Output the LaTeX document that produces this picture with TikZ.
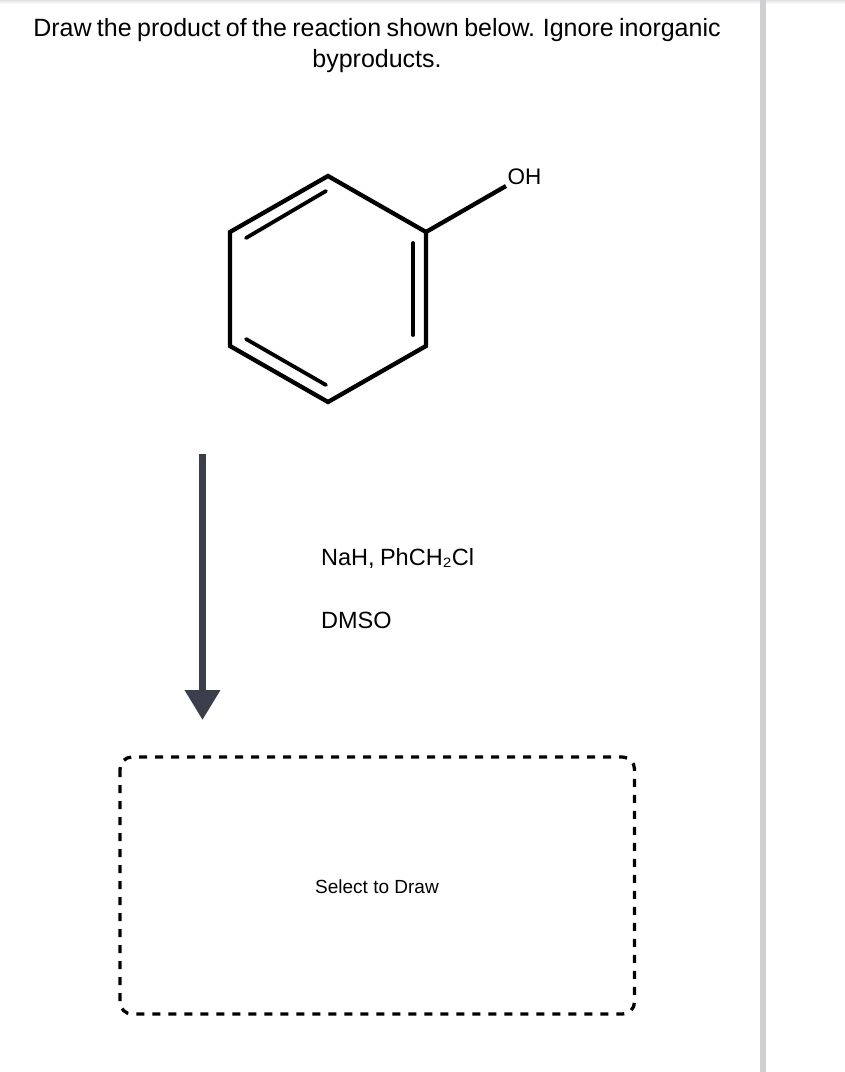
\documentclass[tikz,border=0pt]{standalone}
\usepackage{fontspec}
\setmainfont{Liberation Sans}
\usetikzlibrary{arrows.meta}
\definecolor{arrowgray}{HTML}{3A3F4B}
\definecolor{bargray}{HTML}{CFCFD1}
\newcommand\titlefont{\fontsize{25}{31}\selectfont\spaceskip 5.4pt\relax}
\newcommand\reagentfont{\fontsize{23.5}{29}\selectfont\spaceskip 5.5pt\relax}
\tikzset{
%Define standard arrow tip
>={Triangle[width=34pt,length=30pt]},
%Define style for different line styles
bond/.style={line width=4.3pt, line join=miter},
inner bond/.style={line width=3.8pt, line cap=round},
reaction arrow/.style={->, line width=7pt, draw=arrowgray, color=arrowgray},
answer box/.style={line width=3.3pt, dash pattern=on 8pt off 8pt, rounded corners=12pt},
title text/.style={font=\titlefont, align=center},
reagent text/.style={font=\reagentfont, anchor=west},
}

\begin{document}
\begin{tikzpicture}[x=1pt,y=-1pt]
    \useasboundingbox (0,0) rectangle (845,1072);
    %Page edge and side bar
    \shade[top color=black!12, bottom color=white] (0,0) rectangle (845,4);
    \fill[bargray] (760,0) rectangle (765.5,1072);

    \node[title text] (question) at (377,45.5)
    {Draw the product of the reaction shown below. Ignore inorganic\\byproducts.};

    %Ring atoms
    \coordinate (c1) at (426,232);
    \coordinate (c2) at (328,176);
    \coordinate (c3) at (230,232);
    \coordinate (c4) at (230,346);
    \coordinate (c5) at (328,402);
    \coordinate (c6) at (426,346);
    \draw[bond] (c1) -- (c2) -- (c3) -- (c4) -- (c5) -- (c6) -- cycle;
    %Inner lines of the double bonds
    \coordinate (d1) at (413,243);
    \coordinate (d2) at (413,335);
    \coordinate (d3) at (326,191);
    \coordinate (d4) at (246,238);
    \coordinate (d5) at (246,339);
    \coordinate (d6) at (326,385);
    \draw[inner bond] (d1) -- (d2);
    \draw[inner bond] (d3) -- (d4);
    \draw[inner bond] (d5) -- (d6);
    %Hydroxyl group
    \node[font=\fontsize{22.5}{27}\selectfont] (oh) at (524.5,177) {OH};
    \coordinate (ohend) at (506,186);
    \draw[bond] (c1) -- (ohend);

    %Arrow and reagents
    \coordinate (arrowtop) at (202.5,454);
    \coordinate (arrowtip) at (202.5,720);
    \draw[reaction arrow] (arrowtop) -- (arrowtip);
    \node[reagent text] (base) at (317.5,558.5) {NaH, PhCH₂Cl};
    \node[reagent text] (solvent) at (317.5,620.5) {DMSO};

    %Box for the answer
    \draw[answer box] (120,757) rectangle (634.5,1014);
    \node[font=\fontsize{19}{23}\selectfont] (select) at (377,887) {Select to Draw};
\end{tikzpicture}
\end{document}
